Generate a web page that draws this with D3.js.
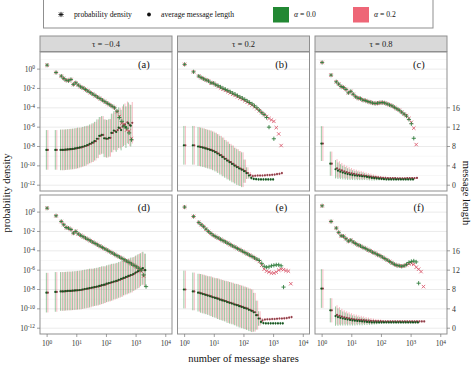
<!DOCTYPE html>
<html><head><meta charset="utf-8">
<script src="https://cdn.jsdelivr.net/npm/d3@7"></script>
<style>body{margin:0;background:#fff}svg{display:block}text{font-family:"Liberation Serif","Times New Roman",serif}</style>
</head><body><svg id="c" width="474" height="365"></svg>
<script>
// ---- data ----
// message-share bins (shared x grid)
const shares = [1,2,3,3.62,4.37,5.27,6.36,7.67,9.27,11.19,13.49,16.29,19.67,23.71,28.64,34.6,41.7,50.4,60.8,73.3,88.5,106.9,128.8,155.6,187.9,226.5,273.5,330.4,398.1,480.8,580.8,699.8,845.3,1020.9,1230.3,1485.9,1794.7,2162.7,2612.2,3155.2,3801.9];
const tauLabels = ["τ = −0.4","τ = 0.2","τ = 0.8"];
const panelTags = ["(a)","(b)","(c)","(d)","(e)","(f)"];
const alphaLabels = ["0.0","0.2"];
const xTickExp = [0,1,2,3,4];
const yTickExp = [0,-2,-4,-6,-8,-10,-12];
const lenTicks = [0,4,8,12,16];

// log10 probability density, alpha = 0.0 (g) and alpha = 0.2 (p)
const dens_a_g = [0.41,-0.35,-0.72,-0.96,-1.14,-1.2,-1.07,-1.58,-1.41,-1.65,-1.83,-1.95,-2.11,-2.27,-2.43,-2.58,-2.74,-2.9,-3.05,-3.21,-3.37,-3.53,-3.68,-3.84,-4.0,-4.35,-5.0,-5.4,-5.9,-6.1,-6.6,-7.3];
const dens_a_p = [0.41,-0.35,-0.72,-0.96,-1.14,-1.2,-1.07,-1.58,-1.41,-1.65,-1.83,-1.95,-2.11,-2.27,-2.43,-2.58,-2.74,-2.9,-3.05,-3.21,-3.37,-3.53,-3.68,-3.84,-4.0,-4.4,-4.9,-5.6,-5.7,-6.3,-6.4,-7.2];
const dens_b_g = [0.49,-0.28,-0.72,-0.88,-1.0,-1.12,-1.22,-1.42,-1.45,-1.62,-1.72,-1.85,-1.98,-2.1,-2.22,-2.35,-2.48,-2.6,-2.75,-2.88,-3.0,-3.15,-3.3,-3.45,-3.6,-3.8,-4.0,-4.25,-4.5,-4.7,-5.0,-6.0,null,-7.2];
const dens_b_p = [0.49,-0.28,-0.72,-0.88,-1.0,-1.12,-1.22,-1.42,-1.45,-1.62,-1.8,-1.95,-2.08,-2.2,-2.33,-2.46,-2.6,-2.72,-2.86,-3.0,-3.12,-3.27,-3.42,-3.57,-3.72,-3.9,-4.1,-4.3,-4.5,-4.7,-4.9,-5.1,-5.25,-5.4,-6.05,-6.7,-7.9];
const dens_c_g = [0.69,-0.62,-1.31,-1.55,-1.8,-1.9,-2.1,-2.45,-2.3,-2.6,-2.85,-3.0,-3.05,-3.2,-3.25,-3.35,-3.42,-3.5,-3.55,-3.52,-3.48,-3.45,-3.5,-3.6,-3.7,-3.8,-3.95,-4.1,-4.25,-4.45,-4.65,-4.85,-5.2,-5.65,-7.15];
const dens_c_p = [0.69,-0.62,-1.31,-1.55,-1.8,-1.9,-2.1,-2.45,-2.3,-2.6,-2.85,-3.0,-3.05,-3.2,-3.25,-3.35,-3.42,-3.5,-3.55,-3.52,-3.48,-3.45,-3.5,-3.6,-3.7,-3.8,-3.95,-4.1,-4.25,-4.45,-4.65,-4.8,-5.1,-5.5,-6.1,-7.8];
const dens_d_g = [0.41,-0.38,-0.97,-1.3,-1.59,-1.66,-1.8,-2.17,-2.0,-2.25,-2.4,-2.54,-2.68,-2.82,-2.96,-3.1,-3.24,-3.38,-3.52,-3.66,-3.8,-3.94,-4.08,-4.22,-4.36,-4.5,-4.64,-4.78,-4.92,-5.06,-5.2,-5.35,-5.5,-5.65,-5.8,-6.0,-6.5,-7.7];
const dens_d_p = [0.41,-0.38,-0.97,-1.3,-1.59,-1.66,-1.8,-2.17,-2.0,-2.25,-2.4,-2.54,-2.68,-2.82,-2.96,-3.1,-3.24,-3.38,-3.52,-3.66,-3.8,-3.94,-4.08,-4.22,-4.36,-4.5,-4.64,-4.78,-4.92,-5.06,-5.2,-5.35,-5.5,-5.65,-5.8,-6.1,-6.6];
const dens_e_g = [0.52,-0.45,-1.07,-1.3,-1.5,-1.76,-2.0,-2.2,-2.4,-2.54,-2.67,-2.81,-2.95,-3.08,-3.22,-3.36,-3.5,-3.63,-3.77,-3.9,-4.04,-4.18,-4.32,-4.45,-4.59,-4.73,-4.86,-5.0,-5.3,-5.6,-5.7,-5.65,-5.55,-5.5,-5.45,-5.45,-5.55,-7.75];
const dens_e_p = [0.52,-0.45,-1.07,-1.3,-1.5,-1.76,-2.0,-2.2,-2.4,-2.54,-2.67,-2.81,-2.95,-3.08,-3.22,-3.36,-3.5,-3.63,-3.77,-3.9,-4.04,-4.18,-4.32,-4.45,-4.59,-4.73,-4.9,-5.1,-5.5,-5.9,-6.1,-6.2,-6.3,-6.3,-6.2,-6.0,-5.9,-5.95,-6.05,-6.1,-7.4];
const dens_f_g = [0.65,-0.97,-1.65,-2.1,-2.45,-2.5,-2.75,-3.0,-2.9,-3.1,-3.25,-3.4,-3.5,-3.65,-3.75,-3.9,-4.0,-4.15,-4.25,-4.4,-4.5,-4.65,-4.8,-4.95,-5.1,-5.25,-5.4,-5.5,-5.55,-5.6,-5.55,-5.4,-5.2,-5.1,-5.05,-5.15,-7.35];
const dens_f_p = [0.65,-0.97,-1.65,-2.1,-2.45,-2.5,-2.75,-3.0,-2.9,-3.1,-3.25,-3.4,-3.5,-3.65,-3.75,-3.9,-4.0,-4.15,-4.25,-4.4,-4.5,-4.65,-4.8,-4.95,-5.1,-5.25,-5.4,-5.5,-5.55,-5.6,-5.55,-5.45,-5.35,-5.3,-5.4,-5.7,-5.9,-6.15,-7.7];

// average message length (mean) and its standard deviation
const len_a_g = [7.3,7.3,7.3,7.3,7.35,7.4,7.45,7.5,7.6,7.7,7.8,7.95,8.1,8.3,8.55,8.8,9.1,9.6,10.2,10.4,9.7,9.6,9.8,10.8,11.3,11.0,11.9,11.4,12.4,12.0,12.8,12.3];
const len_a_p = [7.3,7.3,7.3,7.3,7.35,7.4,7.45,7.5,7.6,7.7,7.8,7.95,8.1,8.3,8.55,8.8,9.1,9.6,10.2,10.4,9.7,9.6,9.8,10.8,11.2,11.4,11.8,12.1,12.6,13.0,12.4,12.9];
const sd_a = [4.1,4.1,4.2,4.2,4.2,4.2,4.2,4.2,4.2,4.2,4.1,4.1,4.1,4.0,4.0,4.0,4.0,4.0,3.9,3.9,3.9,3.9,3.9,4.0,4.0,4.1,4.2,4.2,4.3,4.3,4.3,4.3];
const len_b_g = [8.25,8.25,8.0,7.9,7.75,7.6,7.45,7.3,7.1,6.85,6.55,6.2,5.85,5.45,5.1,4.75,4.4,4.05,3.75,3.45,3.2,2.9,2.5,2.0,1.5,1.3,1.25,1.2,1.2,1.2,1.2,1.2,1.2,1.2];
const len_b_p = [8.25,8.25,8.0,7.9,7.75,7.6,7.45,7.3,7.1,6.85,6.55,6.2,5.85,5.45,5.1,4.75,4.4,4.05,3.75,3.45,3.2,2.9,2.5,2.1,1.9,1.95,2.0,2.0,2.0,2.05,2.1,2.1,2.15,2.2,2.3,2.35,2.5];
const sd_b = [4.0,4.0,4.0,4.0,4.0,4.0,4.0,4.0,4.0,4.0,4.0,4.0,4.0,3.9,3.9,3.8,3.8,3.7,3.7,3.6,3.6,2.4,1.2,0.6,0.4,0.3,0.3,0.3,0.3,0.3,0.3,0.3,0.3,0.3,0.3,0.3,0.3];
const len_c_g = [8.6,4.45,3.3,3.0,2.8,2.6,2.45,2.3,2.2,2.1,2.0,1.95,1.9,1.85,1.8,1.7,1.6,1.5,1.45,1.4,1.35,1.3,1.25,1.2,1.2,1.2,1.2,1.2,1.2,1.2,1.2,1.2,1.2,1.2,1.2];
const len_c_p = [8.6,4.45,3.5,3.25,3.05,2.85,2.7,2.55,2.45,2.35,2.25,2.15,2.1,2.0,1.95,1.85,1.8,1.7,1.65,1.6,1.55,1.5,1.5,1.45,1.45,1.45,1.45,1.4,1.4,1.4,1.4,1.45,1.45,1.45,1.45,1.5];
const sd_c = [3.6,2.5,1.9,1.7,1.55,1.4,1.3,1.2,1.1,1.0,0.95,0.9,0.85,0.8,0.7,0.65,0.6,0.55,0.5,0.4,0.35,0.3,0.25,0.2,0.2,0.2,0.2,0.2,0.2,0.2,0.2,0.2,0.2,0.2,0.2,0.2];
const len_d_g = [7.35,7.5,7.6,7.6,7.65,7.7,7.7,7.75,7.8,7.85,7.9,8.0,8.1,8.2,8.3,8.4,8.5,8.6,8.75,8.9,9.0,9.2,9.35,9.5,9.65,9.8,10.0,10.2,10.4,10.6,10.8,11.0,11.2,11.5,11.8,12.1,12.4,12.0];
const len_d_p = [7.35,7.5,7.6,7.6,7.65,7.7,7.7,7.75,7.8,7.85,7.9,8.0,8.1,8.2,8.3,8.4,8.5,8.6,8.75,8.9,9.0,9.2,9.35,9.5,9.65,9.8,10.0,10.2,10.4,10.6,10.8,11.0,11.3,11.6,11.9,12.3,12.0];
const sd_d = [4.1,4.1,4.0,4.0,4.0,4.0,4.0,4.0,4.0,4.0,4.0,4.0,4.0,4.0,4.0,3.9,3.9,3.9,3.9,3.9,3.8,3.8,3.8,3.8,3.7,3.7,3.7,3.7,3.6,3.6,3.6,3.6,3.5,3.5,3.5,3.4,3.4,3.4];
const len_e_g = [8.0,7.6,7.35,7.2,7.05,6.9,6.75,6.6,6.4,6.25,6.1,5.9,5.75,5.6,5.4,5.25,5.1,4.9,4.75,4.55,4.4,4.2,4.05,3.8,3.6,3.3,2.7,2.0,1.3,1.05,1.0,1.0,1.0,1.0,1.0,1.0,1.0,1.0];
const len_e_p = [8.0,7.6,7.35,7.2,7.05,6.9,6.75,6.6,6.4,6.25,6.1,5.9,5.75,5.6,5.4,5.25,5.1,4.9,4.75,4.55,4.4,4.2,4.05,3.8,3.6,3.3,2.7,2.0,1.6,1.8,1.85,1.85,1.9,1.9,1.95,2.0,2.0,2.05,2.1,2.2,2.3];
const sd_e = [3.9,3.9,3.9,4.0,4.0,4.0,4.0,4.1,4.1,4.1,4.2,4.2,4.2,4.2,4.3,4.3,4.3,4.3,4.4,4.4,4.4,4.4,4.4,4.4,4.4,4.0,3.0,1.5,0.5,0.3,0.3,0.3,0.3,0.3,0.3,0.3,0.3,0.3,0.3,0.3,0.3];
const len_f_g = [8.2,3.7,2.5,2.3,2.15,2.0,1.9,1.8,1.7,1.6,1.55,1.5,1.45,1.4,1.35,1.3,1.25,1.2,1.2,1.2,1.2,1.2,1.2,1.2,1.2,1.2,1.2,1.2,1.2,1.2,1.2,1.2,1.2,1.2,1.2,1.2,1.2];
const len_f_p = [8.2,3.7,2.75,2.55,2.4,2.25,2.15,2.05,1.95,1.85,1.8,1.75,1.7,1.65,1.6,1.55,1.5,1.5,1.45,1.45,1.45,1.4,1.4,1.4,1.4,1.4,1.4,1.4,1.4,1.4,1.4,1.4,1.4,1.4,1.4,1.4,1.4,1.4,1.4];
const sd_f = [4.0,2.5,2.0,1.8,1.6,1.45,1.35,1.25,1.15,1.05,1.0,0.9,0.85,0.8,0.7,0.65,0.6,0.5,0.45,0.4,0.35,0.3,0.2,0.2,0.2,0.2,0.2,0.2,0.2,0.2,0.2,0.2,0.2,0.2,0.2,0.2,0.2,0.2,0.2];

const panels = [
  {dg:dens_a_g, dp:dens_a_p, lg:len_a_g, lp:len_a_p, sd:sd_a},
  {dg:dens_b_g, dp:dens_b_p, lg:len_b_g, lp:len_b_p, sd:sd_b},
  {dg:dens_c_g, dp:dens_c_p, lg:len_c_g, lp:len_c_p, sd:sd_c},
  {dg:dens_d_g, dp:dens_d_p, lg:len_d_g, lp:len_d_p, sd:sd_d},
  {dg:dens_e_g, dp:dens_e_p, lg:len_e_g, lp:len_e_p, sd:sd_e},
  {dg:dens_f_g, dp:dens_f_p, lg:len_f_g, lp:len_f_p, sd:sd_f}
];

// ---- layout ----
const GREEN = "#228833", PINK = "#EE6677";
const colX = [40, 177.5, 315], rowY = [52, 195], PW = 132, PH = 139;
const svg = d3.select("#c");

const x = d3.scaleLog().domain([Math.pow(10,-0.24), Math.pow(10,4.21)]).range([0, PW]);
const yLo = -12.6, yHi = 1.77;
const y = d3.scaleLog().domain([Math.pow(10,yLo), Math.pow(10,yHi)]).range([PH, 0]);
// secondary axis: message length m <-> density 10^(m/2 - 12)
const yLen = d3.scaleLinear().domain([2*(yLo+12), 2*(yHi+12)]).range([PH, 0]);

const plusPath = r => `M${-r},0H${r}M0,${-r}V${r}`;
const crossPath = r => `M${-r},${-r}L${r},${r}M${-r},${r}L${r},${-r}`;

function sup(sel, base, exp){
  sel.append("tspan").text(base);
  sel.append("tspan").attr("dy","-0.45em").attr("font-size","0.72em").text(exp);
}

panels.forEach((p, k) => {
  const col = k % 3, row = Math.floor(k/3);
  const g = svg.append("g").attr("transform", `translate(${colX[col]},${rowY[row]})`);
  g.append("rect").attr("width", PW).attr("height", PH).attr("fill", "#fff");
  d3.range(-12, 2).forEach(e => {
    g.append("line").attr("x1",0).attr("x2",PW)
      .attr("y1", y(Math.pow(10,e))).attr("y2", y(Math.pow(10,e)))
      .attr("stroke", e % 2 === 0 ? "#e3e3e3" : "#eeeeee").attr("stroke-width", e%2===0?0.7:0.5);
  });
  const plot = g.append("g");
  const series = [
    {dens:p.dp, len:p.lp, c:PINK, mc:"#d9566a", dx:0.75, sym:crossPath, r:1.7},
    {dens:p.dg, len:p.lg, c:GREEN, mc:"#2a7a38", dx:-0.75, sym:plusPath, r:2.1}
  ];
  series.forEach(s => {
    s.len.forEach((m, i) => {
      if (m == null) return;
      const sd = p.sd[i] == null ? 0 : p.sd[i];
      const xp = x(shares[i]) + s.dx;
      plot.append("line").attr("x1", xp).attr("x2", xp)
        .attr("y1", yLen(m - sd)).attr("y2", yLen(m + sd))
        .attr("stroke", s.c).attr("stroke-width", 0.9).attr("stroke-opacity", 0.5);
    });
  });
  series.forEach(s => {
    s.len.forEach((m, i) => {
      if (m == null) return;
      plot.append("circle").attr("cx", x(shares[i]) + s.dx).attr("cy", yLen(m)).attr("r", 1.1)
        .attr("fill", d3.color(s.c).darker(1.4));
    });
  });
  series.forEach(s => {
    s.dens.forEach((v, i) => {
      if (v == null) return;
      plot.append("path").attr("d", s.sym(s.r))
        .attr("transform", `translate(${x(shares[i])},${y(Math.pow(10, v))})`)
        .attr("stroke", s.mc).attr("stroke-width", 0.85).attr("fill", "none");
    });
  });
  g.append("rect").attr("width", PW).attr("height", PH).attr("fill", "none")
    .attr("stroke", "#8f8f8f").attr("stroke-width", 1);
  g.append("text").attr("x", x(Math.pow(10,3.26))).attr("y", y(Math.pow(10,0.45)))
    .attr("text-anchor","middle").attr("dominant-baseline","central")
    .attr("font-size", 10.5).attr("fill","#111").text(panelTags[k]);

  if (col === 0) {
    yTickExp.forEach(e => {
      const yy = y(Math.pow(10,e));
      g.append("line").attr("x1",-3).attr("x2",0).attr("y1",yy).attr("y2",yy).attr("stroke","#777").attr("stroke-width",0.7);
      const t = g.append("text").attr("x",-5).attr("y",yy+2.6).attr("text-anchor","end")
        .attr("font-size",7.5).attr("fill","#333");
      sup(t, "10", e);
    });
  }
  if (col === 2) {
    lenTicks.forEach(m => {
      const yy = yLen(m);
      g.append("line").attr("x1",PW).attr("x2",PW+3).attr("y1",yy).attr("y2",yy).attr("stroke","#777").attr("stroke-width",0.7);
      g.append("text").attr("x",PW+5).attr("y",yy+2.7).attr("font-size",7.8).attr("fill","#333").text(m);
    });
  }
  if (row === 1) {
    xTickExp.forEach(e => {
      const xx = x(Math.pow(10,e));
      g.append("line").attr("x1",xx).attr("x2",xx).attr("y1",PH).attr("y2",PH+3).attr("stroke","#777").attr("stroke-width",0.7);
      const t = g.append("text").attr("x",xx).attr("y",PH+12).attr("text-anchor","middle")
        .attr("font-size",7.5).attr("fill","#333");
      sup(t, "10", e);
    });
  }
  if (row === 0) {
    svg.append("rect").attr("x", colX[col]).attr("y", 36).attr("width", PW).attr("height", 15.5)
      .attr("fill", "#d9d9d9").attr("stroke", "#8f8f8f").attr("stroke-width", 1);
    svg.append("text").attr("x", colX[col] + PW/2).attr("y", 46.5).attr("text-anchor","middle")
      .attr("font-size", 8.5).attr("fill","#222").text(tauLabels[col]);
  }
});

svg.append("text").attr("transform","translate(10,193) rotate(-90)").attr("text-anchor","middle")
  .attr("font-size",10.5).attr("fill","#111").text("probability density");
svg.append("text").attr("transform","translate(463,193) rotate(90)").attr("text-anchor","middle")
  .attr("font-size",10.5).attr("fill","#111").text("message length");
svg.append("text").attr("x", 243.5).attr("y", 362).attr("text-anchor","middle")
  .attr("font-size",10.5).attr("fill","#111").text("number of message shares");

const lg = svg.append("g");
lg.append("rect").attr("x",43.5).attr("y",-2).attr("width",389.5).attr("height",30)
  .attr("fill","#fff").attr("stroke","#8f8f8f").attr("stroke-width",1);
lg.append("path").attr("d", plusPath(2.6) + crossPath(2.0)).attr("transform","translate(61,14.5)")
  .attr("stroke","#111").attr("stroke-width",0.9).attr("fill","none");
lg.append("text").attr("x",74).attr("y",17.3).attr("font-size",7.7).attr("fill","#111").text("probability density");
lg.append("circle").attr("cx",149).attr("cy",14.5).attr("r",1.9).attr("fill","#111");
lg.append("text").attr("x",161).attr("y",17.3).attr("font-size",7.7).attr("fill","#111").text("average message length");
[GREEN, PINK].forEach((c, i) => {
  const x0 = [273, 353][i];
  lg.append("rect").attr("x",x0).attr("y",7).attr("width",16).attr("height",15.5).attr("fill",c);
  const t = lg.append("text").attr("x",x0+21).attr("y",17.3).attr("font-size",7.7).attr("fill","#111");
  t.append("tspan").attr("font-style","italic").text("α");
  t.append("tspan").text(" = " + alphaLabels[i]);
});
</script></body></html>
